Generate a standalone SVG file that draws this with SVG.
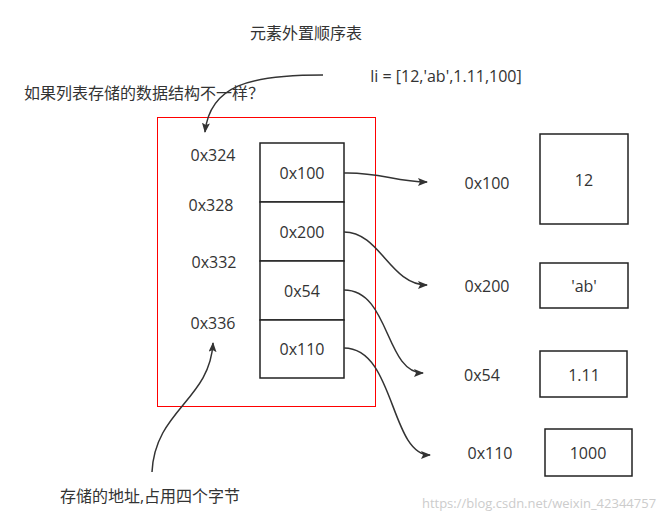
<svg xmlns="http://www.w3.org/2000/svg" width="662" height="521" viewBox="0 0 662 521">
<style>
text{font-family:"Open Sans","Noto Sans CJK SC",sans-serif;font-size:16px;fill:#333;text-anchor:middle;dominant-baseline:central}
.c{fill:#fff;stroke:#222;stroke-width:1.5}
.l{fill:none;stroke:#333;stroke-width:1.5;marker-end:url(#a)}
</style>
<defs><marker id="a" markerWidth="10" markerHeight="8" refX="9" refY="4" orient="auto" markerUnits="userSpaceOnUse"><path d="M0,0L10,4L0,8L2,4z" fill="#333"/></marker></defs>
<rect width="662" height="521" fill="#fff"/>
<g id="titles">
<text x="306" y="33">元素外置顺序表</text>
<text x="446" y="76">li = [12,'ab',1.11,100]</text>
<text x="144" y="93">如果列表存储的数据结构不一样？</text>
<text x="150" y="496">存储的地址,占用四个字节</text>
<text x="539" y="503" style="font-size:13px;fill:#ccc">https://blog.csdn.net/weixin_42344757</text>
</g>
<g id="frame"><rect x="157.5" y="117.5" width="218" height="289" fill="none" stroke="#f00" stroke-width="1"/></g>
<g id="addrs">
<text x="213" y="155">0x324</text><text x="211" y="205">0x328</text><text x="214" y="262">0x332</text><text x="213" y="323">0x336</text>
</g>
<g id="cells">
<rect class="c" x="260" y="143" width="84" height="59"/><text x="302" y="173">0x100</text>
<rect class="c" x="260" y="202" width="84" height="59"/><text x="302" y="232">0x200</text>
<rect class="c" x="260" y="261" width="84" height="59"/><text x="302" y="291">0x54</text>
<rect class="c" x="260" y="320" width="84" height="58"/><text x="302" y="349">0x110</text>
</g>
<g id="targets">
<text x="487" y="183">0x100</text><text x="487" y="286">0x200</text><text x="482" y="375">0x54</text><text x="490" y="453">0x110</text>
<rect class="c" x="540" y="134" width="88" height="90"/><text x="584" y="180">12</text>
<rect class="c" x="540" y="263" width="88" height="45"/><text x="584" y="286">'ab'</text>
<rect class="c" x="540" y="351" width="87" height="46"/><text x="584" y="375">1.11</text>
<rect class="c" x="545" y="429" width="87" height="47"/><text x="588" y="453">1000</text>
</g>
<g id="connectors">
<path class="l" d="M344,173C380,172 395,182 427,182"/>
<path class="l" d="M344,232C380,232 390,285 427,285"/>
<path class="l" d="M344,290C390,290 385,373 423,373"/>
<path class="l" d="M344,348C395,348 390,455 430,455"/>
<path class="l" d="M323,75C250,75 210,85 205,132"/>
<path class="l" d="M152,472C155,410 210,400 213,343"/>
</g>
</svg>
